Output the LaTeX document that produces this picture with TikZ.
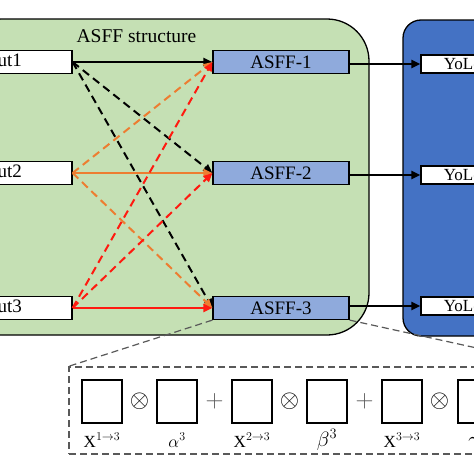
\documentclass[tikz,border=0pt]{standalone}
\usepackage{amsmath}
\usepackage{amssymb}
\usepackage{fontspec}
\setmainfont{Liberation Serif}
\usetikzlibrary{arrows.meta}
\definecolor{asffgreen}{HTML}{C5E0B4}
\definecolor{yoloblue}{HTML}{4472C4}
\definecolor{asffbox}{HTML}{8FAADC}
\definecolor{linkorange}{HTML}{ED7D31}
\definecolor{linkred}{HTML}{FF1A10}
\definecolor{zoomgray}{HTML}{595959}

\begin{document}
\begin{tikzpicture}[x=1pt,y=-1pt,
    inbox/.style={draw,line width=1.2pt,fill=white,inner sep=0pt,minimum width=150pt,minimum height=23pt,font=\fontsize{19}{19}\selectfont},
    asffnode/.style={draw,line width=1.2pt,fill=asffbox,inner sep=0pt,minimum width=136pt,minimum height=23pt,font=\fontsize{19}{19}\selectfont},
    yolonode/.style={draw,line width=1.2pt,fill=white,inner sep=0pt,minimum width=120pt,minimum height=18pt,font=\fontsize{17}{17}\selectfont},
    sq/.style={draw,line width=1.1pt,fill=white,inner sep=0pt,minimum width=40pt,minimum height=43pt},
    op/.style={inner sep=0pt,font=\fontsize{24}{24}\selectfont},
    lbl/.style={inner sep=0pt,font=\fontsize{17}{17}\selectfont},
    link/.style={line width=2pt,-{Triangle[length=9pt,width=8pt]}},
    dsh/.style={dash pattern=on 8pt off 5pt}]
    \useasboundingbox (0,0) rectangle (474,474);
    \fill[white] (0,0) rectangle (474,474);
    % panels
    \draw[line width=1.3pt,fill=asffgreen,rounded corners=42pt] (-40,19) rectangle (369,335);
    \draw[line width=1.3pt,fill=yoloblue,rounded corners=18pt] (403,20) rectangle (600,336);
    \node[anchor=base,inner sep=0pt,font=\fontsize{19.5}{20}\selectfont] (title) at (136.5,42) {ASFF structure};
    % inputs
    \node[inbox] (in1) at (-3,62) {Input1};
    \node[inbox] (in2) at (-3,173) {Input2};
    \node[inbox] (in3) at (-3,308) {Input3};
    % fusion blocks
    \node[asffnode] (asff1) at (281,62) {ASFF-1};
    \node[asffnode] (asff2) at (281,173) {ASFF-2};
    \node[asffnode] (asff3) at (281,308) {ASFF-3};
    % heads
    \node[yolonode] (yolo1) at (481,64) {YoLo head};
    \node[yolonode] (yolo2) at (481,175) {YoLo head};
    \node[yolonode] (yolo3) at (481,306) {YoLo head};
    % links
    \draw[link] (in1.east) -- (asff1.west);
    \draw[link,dsh] (in1.east) -- (asff2.west);
    \draw[link,dsh] (in1.east) -- (asff3.west);
    \draw[link,dsh,linkorange] (in2.east) -- (asff1.west);
    \draw[link,linkorange] (in2.east) -- (asff2.west);
    \draw[link,dsh,linkorange] (in2.east) -- (asff3.west);
    \draw[link,dsh,linkred] (in3.east) -- (asff1.west);
    \draw[link,dsh,linkred] (in3.east) -- (asff2.west);
    \draw[link,linkred] (in3.east) -- (asff3.west);
    \draw[link] (asff1.east |- yolo1.west) -- (yolo1.west);
    \draw[link] (asff2.east |- yolo2.west) -- (yolo2.west);
    \draw[link] (asff3.east |- yolo3.west) -- (yolo3.west);
    % zoomed view of ASFF-3
    \node[draw=zoomgray,line width=1.2pt,dash pattern=on 7pt off 4pt,inner sep=0pt,minimum width=491pt,minimum height=87pt] (zoombox) at (314.5,410.5) {};
    \draw[zoomgray,line width=1.2pt,dash pattern=on 7pt off 4pt] (asff3.south west) -- (zoombox.north west);
    \draw[zoomgray,line width=1.2pt,dash pattern=on 7pt off 4pt] (asff3.south east) -- (zoombox.north east);
    \foreach \x/\n in {102/1,177/2,252/3,327/4,402/5,478/6}
        \node[sq] (sq\n) at (\x,401.5) {};
    \node[op] (op1) at (139.5,401.5) {$\otimes$};
    \node[op,text=zoomgray] (op2) at (214.5,401.5) {$+$};
    \node[op] (op3) at (289.5,401.5) {$\otimes$};
    \node[op,text=zoomgray] (op4) at (364.5,401.5) {$+$};
    \node[op] (op5) at (439.5,401.5) {$\otimes$};
    \node[lbl] (lab1) at (102,440) {X$^{1\rightarrow3}$};
    \node[lbl] (lab2) at (177,440) {$\alpha^3$};
    \node[lbl] (lab3) at (252,440) {X$^{2\rightarrow3}$};
    \node[lbl,font=\fontsize{21}{21}\selectfont] (lab4) at (327,440) {$\beta^3$};
    \node[lbl] (lab5) at (402,440) {X$^{3\rightarrow3}$};
    \node[lbl,font=\fontsize{21}{21}\selectfont] (lab6) at (478,440) {$\gamma^3$};
\end{tikzpicture}
\end{document}
